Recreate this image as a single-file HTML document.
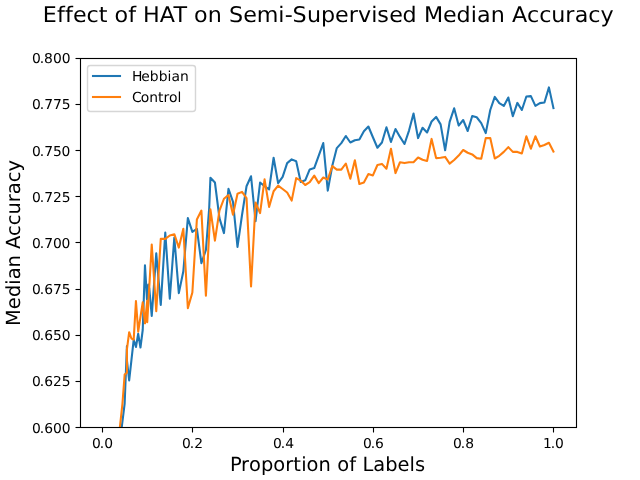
<!DOCTYPE html>
<html lang="en"><head><meta charset="utf-8"><title>Effect of HAT on Semi-Supervised Median Accuracy</title>
<style>html,body{margin:0;padding:0;background:#fff;overflow:hidden}svg{display:block}text{font-family:"DejaVu Sans", "Liberation Sans", sans-serif;fill:#000;font-variant-ligatures:none;font-kerning:none;text-rendering:geometricPrecision;font-feature-settings:"liga" 0,"clig" 0,"kern" 0}</style></head><body>
<svg width="640" height="480" viewBox="0 0 640 480">
<rect width="640" height="480" fill="#fff"/>
<defs><clipPath id="ax"><rect x="80" y="57.6" width="496" height="369.6"/></clipPath></defs>
<g stroke="#000" stroke-width="1.111" fill="none">
<line x1="102.5" y1="427.5" x2="102.5" y2="432.5"/>
<line x1="192.5" y1="427.5" x2="192.5" y2="432.5"/>
<line x1="283.5" y1="427.5" x2="283.5" y2="432.5"/>
<line x1="373.5" y1="427.5" x2="373.5" y2="432.5"/>
<line x1="463.5" y1="427.5" x2="463.5" y2="432.5"/>
<line x1="553.5" y1="427.5" x2="553.5" y2="432.5"/>
<line x1="75.5" y1="427.5" x2="80.5" y2="427.5"/>
<line x1="75.5" y1="381.5" x2="80.5" y2="381.5"/>
<line x1="75.5" y1="335.5" x2="80.5" y2="335.5"/>
<line x1="75.5" y1="289.5" x2="80.5" y2="289.5"/>
<line x1="75.5" y1="242.5" x2="80.5" y2="242.5"/>
<line x1="75.5" y1="196.5" x2="80.5" y2="196.5"/>
<line x1="75.5" y1="150.5" x2="80.5" y2="150.5"/>
<line x1="75.5" y1="104.5" x2="80.5" y2="104.5"/>
<line x1="75.5" y1="58.5" x2="80.5" y2="58.5"/>
</g>
<g font-size="13.889">
<text transform="matrix(1 0 0 0.98 0 8.952)" x="91.94 99.65 104.14" y="447.601">0.0</text>
<text transform="matrix(1 0 0 0.98 0 8.952)" x="181.94 189.65 194.16" y="447.601">0.2</text>
<text transform="matrix(1 0 0 0.98 0 8.952)" x="272.94 280.8 285.14" y="447.601">0.4</text>
<text transform="matrix(1 0 0 0.98 0 8.952)" x="362.94 370.65 375.11" y="447.601">0.6</text>
<text transform="matrix(1 0 0 0.98 0 8.952)" x="452.94 460.65 465.35" y="447.601">0.8</text>
<text transform="matrix(1 0 0 0.98 0 8.952)" x="543.09 550.87 555.12" y="447.601">1.0</text>
<text transform="matrix(1 0 0 0.98 0 8.66)" x="31.97 39.7 44.18 53.01 61.63" y="433">0.600</text>
<text transform="matrix(1 0 0 0.98 0 7.72)" x="31.97 39.7 44.18 52.93 61.78" y="386">0.625</text>
<text transform="matrix(1 0 0 0.98 0 6.8)" x="31.97 39.7 44.18 53 61.63" y="340">0.650</text>
<text transform="matrix(1 0 0 0.98 0 5.88)" x="31.97 39.7 44.18 53.11 61.78" y="294">0.675</text>
<text transform="matrix(1 0 0 0.98 0 4.96)" x="31.97 39.7 44.19 52.89 61.6" y="248">0.700</text>
<text transform="matrix(1 0 0 0.98 0 4.04)" x="31.97 39.7 44.19 52.92 61.68" y="202">0.725</text>
<text transform="matrix(1 0 0 0.98 0 3.12)" x="31.97 39.7 44.19 52.88 61.6" y="156">0.750</text>
<text transform="matrix(1 0 0 0.98 0 2.18)" x="31.97 39.7 44.19 52.89 61.68" y="109">0.775</text>
<text transform="matrix(1 0 0 0.98 0 1.26)" x="31.97 39.7 44.1 53.01 61.63" y="63">0.800</text>
</g>
<text x="229.96 241.1 249.07 261.07 273.36 285.22 293.36 301.19 306.61 318.5 330.95 337.17 349.15 355.94 362.44 373.21 385.19 397.58 409.58 414.91" y="470.694" font-size="19.444">Proportion of Labels</text>
<text transform="translate(19.917 326.025) rotate(-90)" x="0.01 16.84 28.94 41.24 46.69 58.41 70.93 76.93 90.04 100.77 111.53 123.75 131.9 143.69 154.65" y="0" font-size="19.444">Median Accuracy</text>
<text transform="matrix(1 0 0 0.97 0 0.654)" x="42.83 56.96 64.92 72.88 86.52 98.75 107.68 114.55 128.18 136.2 143.09 159.76 173.4 187.07 194.08 207.8 221.85 228.95 243.2 256.71 278.36 284.69 292.6 306.9 321.11 335.12 348.76 357.9 371.13 377.35 389.14 402.62 416.56 423.93 443.1 456.58 470.78 477.03 490.64 504.56 511.91 526.94 539.16 551.34 565.32 574.69 588.37 600.62" y="21.786" font-size="22.222">Effect of HAT on Semi-Supervised Median Accuracy</text>
<g clip-path="url(#ax)" fill="none" stroke-width="2.083" stroke-linejoin="round" stroke-linecap="square">
<polyline stroke="#1f77b4" points="120.28,439.2 121.75,427.2 124.66,403.5 126.92,346 126.92,360.4 129.17,380.4 131.43,360.2 133.69,339.8 135.95,347 138.2,333.8 140.46,347.5 142.72,330 144.97,265.3 147,299.4 148.3,284.5 149.3,288.5 151.74,316 156.26,253.4 160.77,305 165.28,232.5 169.8,298.75 174.31,237.5 178.83,293.1 183.34,271.25 187.85,218.1 192.37,231.9 196.88,228.75 201.39,263.1 205.91,250 209.2,208 210.42,177.75 214.93,182.5 219.45,218.1 223.96,233.1 228.47,188.75 232.99,201.9 237.5,246.9 242.02,215 246.53,186.25 251.04,176.25 255.56,221.25 260.07,182.5 264.58,186.25 269.1,189.4 273.61,157.75 278.12,183.1 282.64,176.9 287.15,163.1 291.67,159.4 296.18,161.25 300.69,181.9 305.21,180.3 309.72,169.4 314.23,168.1 318.75,155.6 323.26,143.1 327.77,190.6 332.29,165.75 336.8,148.1 341.31,143.1 345.83,136 350.34,142.5 354.86,140.25 359.37,139.4 363.88,131.25 368.4,126.5 372.91,137.25 377.42,147.75 381.94,142.5 386.45,127.25 390.96,141.9 395.48,129 399.99,136.9 404.51,144 409.02,130.6 413.53,113.5 418.05,138.1 422.56,127.75 427.07,132.5 431.59,121.5 436.1,116.9 440.61,124.4 445.13,150.3 449.64,121.9 454.15,108.3 458.67,125.6 463.18,120 467.7,131 472.21,116 476.72,117.25 481.24,123.1 485.75,133.1 490.26,110 494.78,96.9 499.29,103.1 503.8,105.9 508.32,97.5 512.83,116.25 517.35,102.9 521.86,110 526.37,96.5 530.89,96.1 535.4,105.9 539.91,103.1 544.43,102.5 548.94,87.4 553.45,108.1"/>
<polyline stroke="#ff7f0e" points="118.6,439.2 119.9,427.2 122.41,404 124.66,374.6 126.92,372.6 126.92,349.4 129.17,332.2 131.43,338.5 133.69,339.6 135.95,301 138.2,331.7 140.46,317 142.72,302.3 144.97,323.3 147.23,300.7 147.23,322.3 151.74,244.5 156.26,311.2 160.77,238.8 165.28,238.9 169.8,235.5 174.31,234.2 178.83,247.6 183.34,228.75 187.85,308.1 192.37,292.5 196.88,219.4 201.39,210.6 205.91,295.6 210.42,209.4 214.93,240.6 219.45,210.6 223.96,198.75 228.47,195 232.99,214.7 237.5,193.75 242.02,191.9 246.53,198.1 251.04,286.5 255.56,202.5 260.07,213.1 264.58,179.4 269.1,206.9 273.61,191.25 278.12,185.6 282.64,189 287.15,192.5 291.67,200.6 296.18,178.1 300.69,180.6 305.21,185 309.72,182.2 314.23,175.6 318.75,183.1 323.26,177.5 327.77,179.5 332.29,166.1 336.8,169.6 341.31,169.6 345.83,163.5 350.34,178.75 354.86,160.25 359.37,184 363.88,182.5 368.4,174 372.91,175.4 377.42,165 381.94,163.9 386.45,168.75 390.96,148.75 395.48,173.1 399.99,162.25 404.51,163.1 409.02,162.25 413.53,162.25 418.05,157.5 422.56,159.75 427.07,161 431.59,138.9 436.1,158.1 440.61,157.75 445.13,156.9 449.64,163.6 454.15,160 458.67,155.6 463.18,150 467.7,152.75 472.21,154.4 476.72,158.1 481.24,158.75 485.75,138.1 490.26,138.1 494.78,158.5 499.29,155.8 503.8,151.9 508.32,147.1 512.83,151.9 517.35,151.9 521.86,153.5 526.37,136.3 530.89,148.75 535.4,136.25 539.91,146.5 544.43,145 548.94,142.75 553.45,151.5"/>
</g>
<rect x="80.5" y="58.5" width="496" height="369" fill="none" stroke="#000" stroke-width="1.111"/>
<rect x="87.5" y="65.5" width="108" height="46" rx="2.78" ry="2.78" fill="#fff" stroke="#ccc" stroke-width="1.389" opacity="0.8"/>
<rect x="91.96" y="74.96" width="29.08" height="2.08" fill="#1f77b4"/>
<rect x="91.96" y="95.96" width="29.08" height="2.08" fill="#ff7f0e"/>
<g font-size="13.889"><text x="131.9 141.37 149.87 158.7 167.55 171.55 180.1" y="81.153">Hebbian</text><text x="131.88 140.79 149.2 157.93 163.46 168.99 177.47" y="101.54">Control</text></g>
</svg></body></html>
